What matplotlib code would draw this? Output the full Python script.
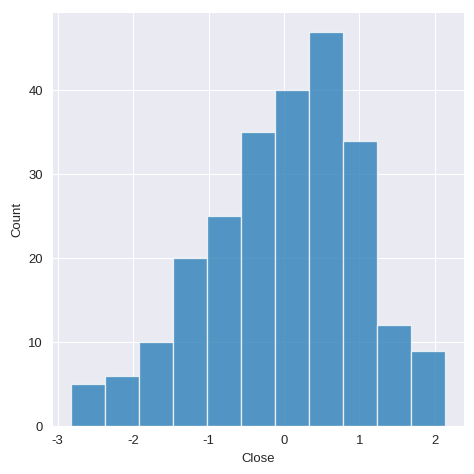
import numpy as np
import matplotlib
matplotlib.use("Agg")
import matplotlib.pyplot as plt
import seaborn as sns

# Histogram of standardized close values
bin_left = -2.825
bin_right = 2.14
counts = [5, 6, 10, 20, 25, 35, 40, 47, 34, 12, 9]

edges = np.linspace(bin_left, bin_right, len(counts) + 1)
centers = (edges[:-1] + edges[1:]) / 2

sns.set_style("darkgrid")
plt.rcParams['font.family'] = ['Liberation Sans', 'DejaVu Sans']
plt.rcParams['axes.unicode_minus'] = False

fig, ax = plt.subplots(figsize=(5, 5), dpi=94.8)
ax.hist(centers, bins=edges, weights=counts, color='#1f77b4', alpha=0.75,
        edgecolor='white', linewidth=1.0)

ax.set_xlabel('Close')
ax.set_ylabel('Count')
ax.set_xticks([-3, -2, -1, 0, 1, 2])
ax.set_yticks([0, 10, 20, 30, 40])

fig.subplots_adjust(left=0.11, right=0.979, bottom=0.101, top=0.975)
fig.savefig('out.png', dpi=94.8)
